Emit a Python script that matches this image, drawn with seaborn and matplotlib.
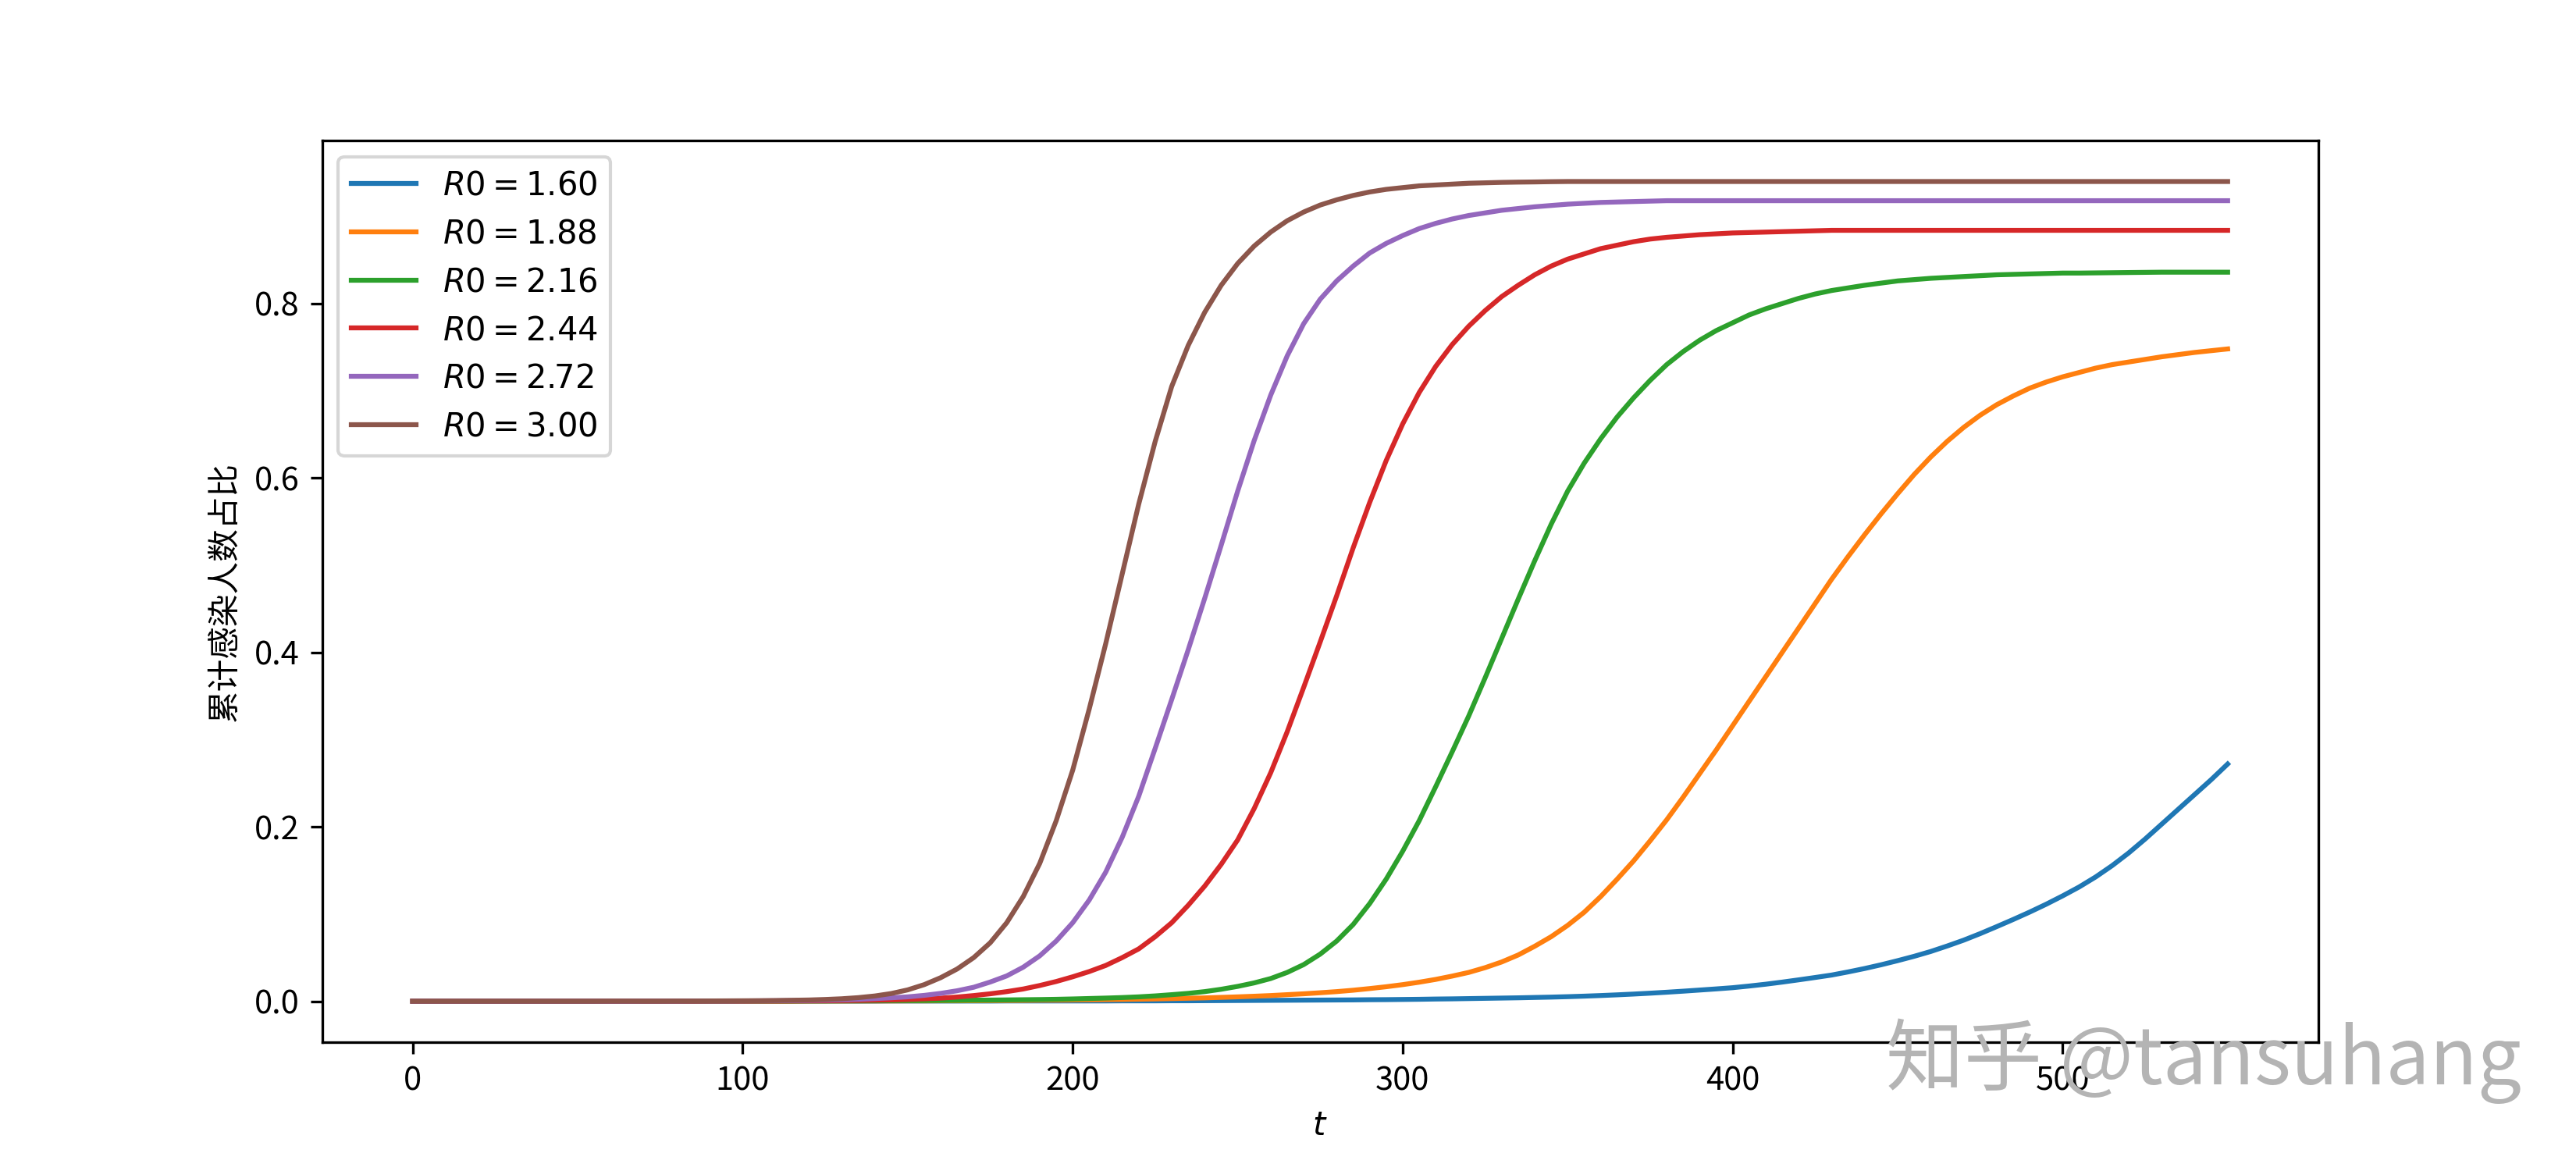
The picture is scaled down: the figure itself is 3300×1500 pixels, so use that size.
import matplotlib
matplotlib.use("Agg")
import matplotlib.pyplot as plt
import seaborn as sns
import pandas as pd

t = [0, 5, 10, 15, 20, 25, 30, 35, 40, 45,
     50, 55, 60, 65, 70, 75, 80, 85, 90, 95,
     100, 105, 110, 115, 120, 125, 130, 135, 140, 145,
     150, 155, 160, 165, 170, 175, 180, 185, 190, 195,
     200, 205, 210, 215, 220, 225, 230, 235, 240, 245,
     250, 255, 260, 265, 270, 275, 280, 285, 290, 295,
     300, 305, 310, 315, 320, 325, 330, 335, 340, 345,
     350, 355, 360, 365, 370, 375, 380, 385, 390, 395,
     400, 405, 410, 415, 420, 425, 430, 435, 440, 445,
     450, 455, 460, 465, 470, 475, 480, 485, 490, 495,
     500, 505, 510, 515, 520, 525, 530, 535, 540, 545,
     550]

r0_values = [1.60, 1.88, 2.16, 2.44, 2.72, 3.00]

# cumulative infected share, one list per R0
c_160 = [0, 0, 0, 0, 0, 0, 0, 0, 0, 0,
         0, 0, 0, 0, 0, 0, 0, 0, 0, 0,
         .0001, .0001, .0001, .0001, .0001, .0001, .0001, .0001, .0001, .0002,
         .0002, .0002, .0002, .0002, .0002, .0002, .0003, .0003, .0003, .0003,
         .0003, .0003, .0003, .0004, .0004, .0004, .0005, .0005, .0006, .0007,
         .0008, .0009, .001, .0011, .0012, .0013, .0014, .0015, .0017, .0018,
         .002, .0022, .0025, .0027, .003, .0033, .0036, .0039, .0043, .0047,
         .0052, .0058, .0065, .0073, .0082, .0092, .0103, .0115, .0128, .0141,
         .0155, .0174, .0195, .0219, .0245, .0272, .030, .0336, .0375, .0418,
         .0465, .0515, .057, .0633, .070, .0775, .0855, .0937, .1022, .1112,
         .1208, .131, .1425, .1555, .170, .186, .203, .220, .237, .254,
         .272]
c_188 = [0, 0, 0, 0, 0, 0, 0, 0, 0, 0,
         0, 0, 0, 0, 0, 0, 0, 0, 0, 0,
         .0001, .0001, .0001, .0001, .0002, .0002, .0002, .0003, .0003, .0003,
         .0004, .0004, .0005, .0005, .0006, .0007, .0008, .0009, .0011, .0012,
         .0014, .0016, .0018, .002, .0023, .0026, .003, .0034, .0038, .0044,
         .005, .0057, .0065, .0075, .0085, .0097, .011, .0126, .0145, .0166,
         .019, .0218, .025, .0288, .033, .0385, .045, .053, .063, .074,
         .087, .102, .120, .140, .161, .184, .208, .234, .261, .288,
         .316, .344, .372, .400, .428, .456, .484, .510, .535, .559,
         .582, .604, .624, .642, .658, .672, .684, .694, .703, .710,
         .716, .721, .726, .730, .733, .736, .739, .7415, .744, .746,
         .748]
c_216 = [0, 0, 0, 0, 0, 0, 0, 0, 0, 0,
         0, 0, 0, 0, 0, 0, 0, 0, 0, 0,
         .0001, .0001, .0002, .0002, .0003, .0003, .0004, .0004, .0005, .0006,
         .0007, .0008, .0009, .0010, .0012, .0013, .0015, .0017, .0019, .0022,
         .0026, .0031, .0036, .0042, .005, .0061, .0075, .009, .011, .0137,
         .017, .021, .026, .033, .042, .054, .069, .088, .112, .140,
         .172, .207, .246, .286, .327, .371, .416, .461, .505, .547,
         .585, .617, .645, .670, .692, .712, .730, .745, .758, .769,
         .778, .787, .794, .800, .806, .811, .815, .818, .821, .8235,
         .826, .8275, .829, .830, .831, .832, .833, .8335, .834, .8345,
         .835, .835, .8352, .8354, .8356, .8358, .836, .836, .836, .836,
         .836]
c_244 = [0, 0, 0, 0, 0, 0, 0, 0, 0, 0,
         0, 0, 0, 0, 0, 0, 0, 0, .0001, .0001,
         .0001, .0002, .0002, .0003, .0004, .0005, .0007, .0009, .0012, .0015,
         .002, .0027, .0035, .0048, .0065, .0085, .011, .014, .018, .0226,
         .028, .034, .041, .050, .060, .074, .090, .110, .132, .157,
         .185, .221, .262, .309, .360, .412, .465, .520, .572, .620,
         .662, .698, .728, .753, .774, .792, .808, .821, .833, .843,
         .851, .857, .863, .867, .871, .874, .876, .8775, .879, .880,
         .881, .8815, .882, .8825, .883, .8835, .884, .884, .884, .884,
         .884, .884, .884, .884, .884, .884, .884, .884, .884, .884,
         .884, .884, .884, .884, .884, .884, .884, .884, .884, .884,
         .884]
c_272 = [0, 0, 0, 0, 0, 0, 0, 0, 0, 0,
         0, 0, 0, 0, .0001, .0001, .0001, .0002, .0002, .0002,
         .0003, .0004, .0005, .0007, .0009, .0012, .0016, .0022, .003, .0039,
         .005, .0067, .009, .012, .016, .022, .029, .039, .052, .069,
         .090, .116, .148, .188, .235, .290, .346, .403, .462, .523,
         .585, .643, .695, .740, .777, .805, .826, .843, .858, .869,
         .878, .886, .892, .897, .901, .904, .907, .909, .911, .9125,
         .914, .915, .916, .9165, .917, .9175, .918, .918, .918, .918,
         .918, .918, .918, .918, .918, .918, .918, .918, .918, .918,
         .918, .918, .918, .918, .918, .918, .918, .918, .918, .918,
         .918, .918, .918, .918, .918, .918, .918, .918, .918, .918,
         .918]
c_300 = [0, 0, 0, 0, 0, 0, 0, 0, 0, 0,
         0, 0, .0001, .0001, .0001, .0001, .0002, .0002, .0003, .0004,
         .0005, .0006, .0008, .0011, .0014, .002, .0028, .0041, .006, .0088,
         .013, .019, .027, .037, .050, .067, .090, .120, .158, .207,
         .265, .335, .410, .490, .570, .642, .705, .752, .790, .821,
         .846, .866, .882, .895, .905, .913, .919, .924, .928, .931,
         .933, .935, .936, .937, .938, .9385, .939, .9393, .9395, .9398,
         .940, .940, .940, .940, .940, .940, .940, .940, .940, .940,
         .940, .940, .940, .940, .940, .940, .940, .940, .940, .940,
         .940, .940, .940, .940, .940, .940, .940, .940, .940, .940,
         .940, .940, .940, .940, .940, .940, .940, .940, .940, .940,
         .940]

curves = [c_160, c_188, c_216, c_244, c_272, c_300]

plt.rcParams['font.family'] = ['Noto Sans CJK SC', 'DejaVu Sans']

frames = []
for r0, c in zip(r0_values, curves):
    frames.append(pd.DataFrame({'t': t, 'share': c, 'label': '$R0=%.2f$' % r0}))
df = pd.concat(frames, ignore_index=True)

fig, ax = plt.subplots(figsize=(11, 5), dpi=300)
palette = sns.color_palette('tab10', len(r0_values))
sns.lineplot(data=df, x='t', y='share', hue='label', palette=palette,
             linewidth=1.5, ax=ax)

ax.set_xlabel('$t$')
ax.set_ylabel('累计感染人数占比')
ax.legend(loc='upper left')

# watermark of the source image
fig.text(0.732, 0.094, '知乎 @tansuhang', fontsize=24, color='#b4b4b4',
         ha='left', va='center', zorder=10)

fig.savefig('out.png', dpi=300)
